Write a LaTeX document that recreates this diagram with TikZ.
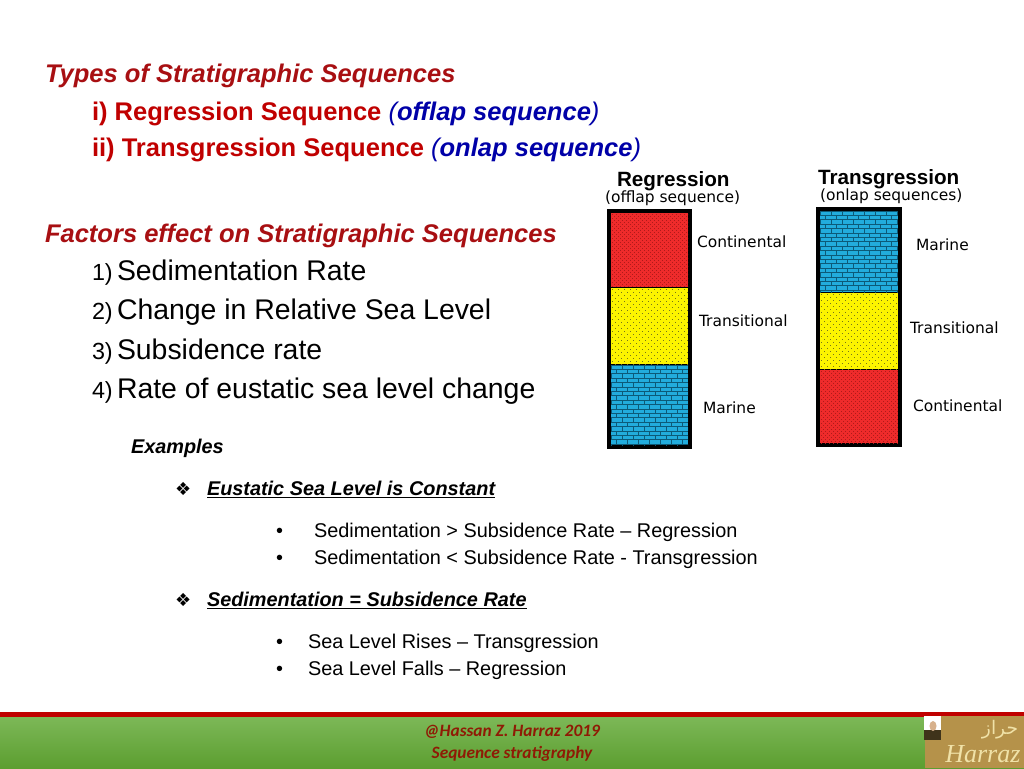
\documentclass[tikz,border=0pt]{standalone}
\usepackage{fontspec}
\setmainfont{Liberation Sans}
\newfontfamily\djv{DejaVu Sans}
\newfontfamily\carl{Carlito}
\newfontfamily\lser{Liberation Serif}
\TeXXeTstate=1
\newfontfamily\arabicfont[Script=Arabic]{DejaVu Sans}
\definecolor{hdred}{HTML}{C00000}
\definecolor{dkred}{HTML}{A80F12}
\definecolor{hdblue}{HTML}{0000A8}
\definecolor{rr}{HTML}{EE2B2B}
\definecolor{rd}{HTML}{B01A1A}
\definecolor{yy}{HTML}{FCF400}
\definecolor{yd}{HTML}{77751A}
\definecolor{bb}{HTML}{22ACDC}
\definecolor{bd}{HTML}{0C5A78}
\definecolor{gold}{HTML}{B5924A}
\definecolor{goldtext}{HTML}{F0E2A8}
\definecolor{foottext}{HTML}{8F1A05}
\newcommand{\fs}[1]{\fontsize{#1}{#1}\selectfont}
\tikzset{
 x=0.75pt,y=-0.75pt,
 txt/.style={anchor=base west,inner sep=0pt,outer sep=0pt,text=black},
 head/.style={txt,text=dkred,font=\fs{19.15}\bfseries\itshape},
 sub/.style={txt,text=hdred,font=\fs{19.15}\bfseries},
 big/.style={txt,font=\fs{21.3}},
 num/.style={txt,font=\fs{17.5}},
 small/.style={txt,font=\fs{14.9}},
 ex/.style={txt,font=\fs{14.9}\bfseries\itshape},
 diam/.style={txt,font=\fs{13.5}\djv},
 lab/.style={txt,font=\fs{11.6}\djv},
 coltitle/.style={txt,font=\fs{15.5}\bfseries},
 colsub/.style={txt,font=\fs{11.6}\djv},
 foot/.style={anchor=base,inner sep=0pt,text=foottext,font=\fs{13}\carl\bfseries\itshape},
}
\newcommand{\dotted}[7]{% x1 y1 x2 y2 fill dot spacing
 \fill[#5] (#1,#2) rectangle (#3,#4);
 \begin{scope}
 \clip (#1,#2) rectangle (#3,#4);
 \foreach \i in {0,...,26}{\foreach \j in {0,...,26}{
  \fill[#6] ({#1+1+\i*#7},{#2+1+\j*#7}) rectangle ++(1.3,1.3);
  \fill[#6] ({#1+1+(\i+0.5)*#7},{#2+1+(\j+0.5)*#7}) rectangle ++(1.3,1.3);
 }}
 \end{scope}}
\newcommand{\bricks}[4]{% x1 y1 x2 y2
 \fill[bb] (#1,#2) rectangle (#3,#4);
 \begin{scope}
 \clip (#1,#2) rectangle (#3,#4);
 \foreach \r in {0,...,18}{
  \draw[bd,line width=0.65pt] (#1,{#2+\r*4.4}) -- (#3,{#2+\r*4.4});
  \pgfmathsetmacro{\off}{mod(\r,2)*5.5}
  \foreach \c in {-1,...,8}{
   \draw[bd,line width=0.65pt] ({#1+\off+\c*11},{#2+\r*4.4}) -- ++(0,4.4);
  }
 }
 \end{scope}}
\begin{document}
\begin{tikzpicture}
\useasboundingbox (0,0) rectangle (1024,768);
\fill[white] (0,0) rectangle (1024,768);
% headings
\node[head] (t1) at (45,82.7) {Types of Stratigraphic Sequences};
\node[sub] (t2) at (92,120.5) {i) Regression Sequence \textcolor{hdblue}{\textit{\textmd{(}offlap sequence\textmd{)}}}};
\node[sub] (t3) at (92,156.5) {ii) Transgression Sequence \textcolor{hdblue}{\textit{\textmd{(}onlap sequence\textmd{)}}}};
\node[head] (t4) at (45,242.5) {Factors effect on Stratigraphic Sequences};
\node[num] (n1) at (92,280) {1)};
\node[big] (b1) at (117,280) {Sedimentation Rate};
\node[num] (n2) at (92,319) {2)};
\node[big] (b2) at (117,319) {Change in Relative Sea Level};
\node[num] (n3) at (92,359) {3)};
\node[big] (b3) at (117,359) {Subsidence rate};
\node[num] (n4) at (92,398) {4)};
\node[big] (b4) at (117,398) {Rate of eustatic sea level change};
\node[ex] (e0) at (131,453) {Examples};
\node[diam] (d1) at (175,495) {❖};
\node[ex] (e1) at (207,495) {\underline{Eustatic Sea Level is Constant}};
\node[small] (p1) at (276,537) {•};
\node[small] (s1) at (314,537) {Sedimentation > Subsidence Rate – Regression};
\node[small] (p2) at (276,564) {•};
\node[small] (s2) at (314,564) {Sedimentation < Subsidence Rate - Transgression};
\node[diam] (d2) at (175,606) {❖};
\node[ex] (e2) at (207,606) {\underline{Sedimentation = Subsidence Rate}};
\node[small] (p3) at (276,648) {•};
\node[small] (s3) at (308,648) {Sea Level Rises – Transgression};
\node[small] (p4) at (276,675) {•};
\node[small] (s4) at (308,675) {Sea Level Falls – Regression};
% left column
\fill[black] (607,209) rectangle (692,449);
\dotted{611}{213}{688}{287}{rr}{rd}{4}
\dotted{611}{288}{688}{364}{yy}{yd}{6}
\bricks{611}{365}{688}{445}
\node[coltitle] (lt) at (617,186) {Regression};
\node[colsub] (ls) at (605,202) {(offlap sequence)};
\node[lab] (l1) at (697,247.5) {Continental};
\node[lab] (l2) at (699,326.5) {Transitional};
\node[lab] (l3) at (703,413) {Marine};
% right column
\fill[black] (816,207) rectangle (902,447);
\bricks{820}{211}{898}{292}
\dotted{820}{293}{898}{369}{yy}{yd}{6}
\dotted{820}{370}{898}{443}{rr}{rd}{4}
\node[coltitle] (rt) at (818,184.5) {Transgression};
\node[colsub] (rs) at (820,200) {(onlap sequences)};
\node[lab] (r1) at (916,250.5) {Marine};
\node[lab] (r2) at (910,333) {Transitional};
\node[lab] (r3) at (913,411.5) {Continental};
% footer
\shade[top color={rgb,255:red,125;green,184;blue,88},bottom color={rgb,255:red,92;green,158;blue,48}] (0,716) rectangle (1024,768);
\fill[hdred] (0,712) rectangle (1024,716.5);
\node[foot] (f1) at (512,736) {@Hassan Z. Harraz 2019};
\node[foot] (f2) at (512,758) {Sequence stratigraphy};
\fill[gold] (925,716) rectangle (1024,768);
\fill[white] (924,716) rectangle (941,740);
\fill[black!65!gold] (924,730) rectangle (941,740);
\fill[black!35!orange!45!white] (933,726) ellipse (3.5 and 5);
\node[anchor=base west,inner sep=0pt,text=goldtext,font=\fs{19.5}\lser\itshape] (lg) at (945,762) {Harraz};
\node[anchor=base,inner sep=0pt,text=goldtext,font=\fs{14}\arabicfont] (la) at (1000,734) {\beginR حراز\endR};
\end{tikzpicture}
\end{document}
